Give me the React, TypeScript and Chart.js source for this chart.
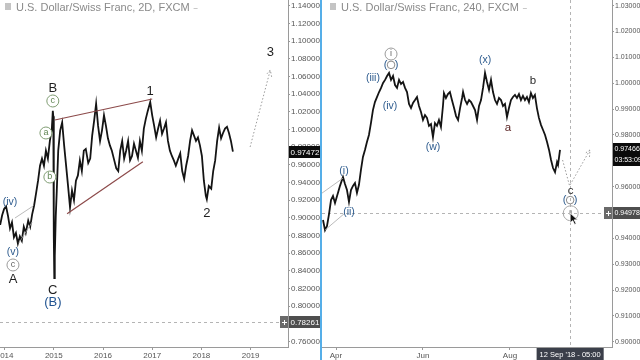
import React, { useEffect, useRef } from "react";
import { Chart, registerables } from "chart.js";

Chart.register(...registerables);

const FONT = "'Liberation Sans', Arial, sans-serif";

// ---------------- Left panel: USD/CHF, 2D ----------------
const leftTitle = "U.S. Dollar/Swiss Franc, 2D, FXCM";
const leftDates = [
  2013.91, 2013.95, 2013.99, 2014.03, 2014.07, 2014.11, 2014.15, 2014.19, 2014.23, 2014.27,
  2014.31, 2014.35, 2014.39, 2014.43, 2014.48, 2014.52, 2014.56, 2014.6, 2014.64, 2014.68,
  2014.72, 2014.76, 2014.8, 2014.84, 2014.88, 2014.92, 2014.96, 2014.98, 2014.99, 2015.0,
  2015.01, 2015.02, 2015.04, 2015.06, 2015.09, 2015.13, 2015.17, 2015.21, 2015.25, 2015.29,
  2015.33, 2015.37, 2015.41, 2015.45, 2015.49, 2015.53, 2015.57, 2015.61, 2015.65, 2015.7,
  2015.74, 2015.78, 2015.82, 2015.86, 2015.9, 2015.94, 2015.98, 2016.02, 2016.06, 2016.1,
  2016.14, 2016.18, 2016.22, 2016.27, 2016.31, 2016.35, 2016.39, 2016.43, 2016.47, 2016.51,
  2016.55, 2016.59, 2016.63, 2016.67, 2016.71, 2016.75, 2016.79, 2016.83, 2016.87, 2016.91,
  2016.96, 2017.0, 2017.04, 2017.08, 2017.12, 2017.16, 2017.2, 2017.24, 2017.28, 2017.32,
  2017.36, 2017.4, 2017.44, 2017.48, 2017.53, 2017.57, 2017.61, 2017.65, 2017.69, 2017.73,
  2017.77, 2017.81, 2017.85, 2017.89, 2017.93, 2017.97, 2018.01, 2018.05, 2018.09, 2018.11,
  2018.15, 2018.2, 2018.24, 2018.28, 2018.32, 2018.36, 2018.4, 2018.44, 2018.48, 2018.52,
  2018.56, 2018.6, 2018.64,
];
const leftPrices = [
  0.892, 0.903, 0.91, 0.913, 0.902, 0.888, 0.895, 0.878, 0.883, 0.871,
  0.879, 0.874, 0.89, 0.883, 0.897, 0.89, 0.904, 0.914, 0.928, 0.942,
  0.959, 0.967, 0.959, 0.976, 0.967, 0.987, 1.001, 1.021, 1.015, 0.878,
  0.832, 0.857, 0.902, 0.93, 0.976, 0.999, 1.008, 0.982, 0.959, 0.936,
  0.912, 0.931, 0.92, 0.942, 0.948, 0.965, 0.953, 0.976, 0.978, 0.962,
  0.967, 0.993, 1.01, 1.029, 1.004, 0.987, 0.999, 1.016, 1.004, 0.99,
  0.982, 0.976, 0.967, 0.956, 0.953, 0.976, 0.987, 0.967, 0.976, 0.987,
  0.965, 0.97, 0.984, 0.976, 0.968, 0.987, 0.976, 1.001, 1.012, 1.021,
  1.031, 1.016, 1.004, 0.991, 1.001, 1.01, 0.995, 1.001, 1.008, 0.987,
  0.976, 0.97, 0.965, 0.959, 0.967, 0.973, 0.953, 0.944, 0.959, 0.97,
  0.987, 0.999, 0.993, 0.987, 0.991, 0.982, 0.97, 0.942, 0.925, 0.921,
  0.936, 0.933, 0.953, 0.965, 0.987, 1.002, 0.99, 0.996, 1.001, 1.003,
  0.996, 0.987, 0.975,
];
const leftYTicks = [0.76, 0.78, 0.8, 0.82, 0.84, 0.86, 0.88, 0.9, 0.92, 0.94, 0.96, 0.98, 1.0, 1.02, 1.04, 1.06, 1.08, 1.1, 1.12, 1.14];
const leftXTicks = [2014, 2015, 2016, 2017, 2018, 2019];
const leftLastPrice = 0.97472;
const leftCrossPrice = 0.78261;

const leftLabels = [
  { text: "3", x: 2019.4, y: 1.0876, kind: "big" },
  { text: "1", x: 2016.96, y: 1.0435, kind: "big" },
  { text: "B", x: 2014.98, y: 1.0469, kind: "big" },
  { text: "c", x: 2014.98, y: 1.0322, kind: "circ" },
  { text: "a", x: 2014.84, y: 0.996, kind: "circ" },
  { text: "b", x: 2014.92, y: 0.9462, kind: "circ" },
  { text: "(iv)", x: 2014.11, y: 0.918, kind: "wave" },
  { text: "(v)", x: 2014.17, y: 0.8614, kind: "wave" },
  { text: "c", x: 2014.17, y: 0.8467, kind: "circGray" },
  { text: "A", x: 2014.17, y: 0.8308, kind: "big" },
  { text: "C", x: 2014.98, y: 0.8184, kind: "big" },
  { text: "(B)", x: 2014.98, y: 0.8048, kind: "bigBlue" },
  { text: "2", x: 2018.11, y: 0.9055, kind: "big" },
];
const leftLines = [
  { pts: [[2015.02, 1.0107], [2017.0, 1.0345]], kind: "trend" },
  { pts: [[2015.27, 0.9046], [2016.81, 0.9635]], kind: "trend" },
  { pts: [[2014.21, 0.8998], [2014.58, 0.9134]], kind: "thin" },
  { pts: [[2014.29, 0.8715], [2014.56, 0.8953]], kind: "thin" },
  { pts: [[2018.99, 0.9802], [2019.4, 1.0673]], kind: "dotArrow" },
];

// ---------------- Right panel: USD/CHF, 240 ----------------
const rightTitle = "U.S. Dollar/Swiss Franc, 240, FXCM";
// day of year 2018
const rightDays = [
  81.9, 83.3, 84.7, 86.1, 87.5, 88.9, 90.3, 92.4, 93.8, 95.9,
  97.3, 98.7, 100.1, 101.5, 102.9, 104.3, 105.7, 107.1, 108.5, 109.9,
  111.3, 112.7, 114.1, 115.5, 116.9, 118.3, 119.8, 121.2, 122.6, 124.0,
  125.4, 126.8, 128.2, 129.6, 131.0, 132.4, 133.8, 135.2, 136.6, 138.0,
  139.4, 140.8, 142.2, 143.6, 145.0, 146.4, 147.8, 149.2, 150.6, 152.0,
  153.4, 154.8, 156.2, 157.6, 159.0, 160.4, 161.8, 163.2, 164.6, 166.0,
  166.7, 168.1, 169.5, 170.9, 172.3, 173.8, 175.2, 176.6, 178.0, 179.4,
  180.1, 181.5, 182.9, 184.3, 185.7, 187.1, 188.5, 189.9, 191.3, 192.7,
  194.1, 195.5, 196.9, 198.3, 199.7, 201.1, 202.5, 203.9, 205.3, 206.7,
  208.1, 209.5, 210.9, 212.3, 213.7, 215.1, 216.5, 217.9, 219.3, 220.7,
  222.1, 223.5, 224.9, 226.3, 227.7, 229.1, 230.5, 231.9, 233.3, 234.8,
  236.2, 237.6, 239.0, 240.4, 241.8, 243.2, 244.6, 246.0, 246.7, 248.1,
];
const rightPrices = [
  0.9471, 0.9432, 0.9448, 0.9494, 0.9548, 0.9564, 0.9537, 0.9576, 0.9603, 0.9637,
  0.961, 0.9587, 0.9541, 0.9587, 0.9603, 0.9614, 0.9576, 0.9607, 0.9665, 0.9715,
  0.9742, 0.9773, 0.98, 0.9846, 0.9896, 0.9927, 0.9947, 0.9966, 0.9982, 1.0001,
  1.0013, 1.0028, 1.004, 1.0013, 1.0028, 0.9993, 0.9982, 1.0013, 0.9997, 1.0005,
  0.9982, 0.9966, 0.992, 0.9904, 0.9924, 0.9935, 0.9947, 0.9912, 0.9889, 0.9858,
  0.9877, 0.9866, 0.9835, 0.9842, 0.9792, 0.9846, 0.9835, 0.9858, 0.9831, 0.9912,
  0.9962, 0.9943, 0.9958, 0.9966, 0.9935, 0.9904, 0.9873, 0.9858, 0.9904, 0.9943,
  0.9966, 0.9935, 0.992, 0.9935, 0.9927, 0.9912, 0.9896, 0.9858, 0.9912, 0.9935,
  0.9982, 1.004, 1.0005, 0.9974, 1.0013, 0.9966, 0.9935, 0.992, 0.9943, 0.9935,
  0.9912, 0.992, 0.9869, 0.9904, 0.9935, 0.9947, 0.9955, 0.9943, 0.9958, 0.9935,
  0.9951, 0.9935, 0.9947, 0.9927, 0.9962, 0.9943, 0.9955, 0.9904, 0.9866, 0.9838,
  0.9819, 0.98, 0.9773, 0.9742, 0.9703, 0.9672, 0.9656, 0.9695, 0.9684, 0.9742,
];
const rightYTicks = [0.9, 0.91, 0.92, 0.93, 0.94, 0.95, 0.96, 0.97, 0.98, 0.99, 1.0, 1.01, 1.02, 1.03];
const rightXTicks = [91, 152, 213];
const rightXLabels = ["Apr", "Jun", "Aug"];
const rightLastPrice = 0.97466;
const rightCountdown = "03:53:09";
const rightCrossPrice = 0.94978;
const rightCrossDay = 255.2;
const rightCrossLabel = "12 Sep '18 - 05:00";

const rightLabels = [
  { text: "(i)", x: 96.6, y: 0.9661, kind: "wave" },
  { text: "(ii)", x: 100.1, y: 0.9502, kind: "wave" },
  { text: "(iii)", x: 116.9, y: 1.002, kind: "wave" },
  { text: "i", x: 129.6, y: 1.0113, kind: "circGray" },
  { text: "", x: 129.6, y: 1.0071, kind: "parenCirc" },
  { text: "(iv)", x: 128.9, y: 0.9912, kind: "wave" },
  { text: "(w)", x: 159.0, y: 0.9753, kind: "wave" },
  { text: "(x)", x: 195.5, y: 1.009, kind: "wave" },
  { text: "a", x: 211.6, y: 0.9827, kind: "lblRed" },
  { text: "b", x: 229.1, y: 1.0009, kind: "lbl" },
  { text: "c", x: 255.6, y: 0.9583, kind: "lbl" },
  { text: "", x: 255.2, y: 0.9548, kind: "parenCirc" },
  { text: "ii", x: 255.6, y: 0.9497, kind: "circBig" },
];
const rightLines = [
  { pts: [[81.2, 0.9575], [95.9, 0.9633]], kind: "thin" },
  { pts: [[83.3, 0.9432], [97.3, 0.9498]], kind: "thin" },
  { pts: [[249.9, 0.9703], [254.8, 0.9603], [269.1, 0.9742]], kind: "dotArrow" },
];

type Spec = {
  name: string;
  title: string;
  titleX: number;
  dates: number[];
  prices: number[];
  xMin: number;
  xMax: number;
  yMin: number;
  yMax: number;
  yTicks: number[];
  xTicks: number[];
  xLabel: (v: number) => string;
  axisW: number;
  axisFont: number;
  padLeft: number;
  lastPrice: number;
  countdown?: string;
  crossPrice: number;
  crossX?: number;
  crossLabel?: string;
  labels: { text: string; x: number; y: number; kind: string }[];
  lines: { pts: number[][]; kind: string }[];
  blueEdge: boolean;
};

function drawText(ctx: CanvasRenderingContext2D, t: string, x: number, y: number, size: number, color: string) {
  ctx.font = `${size}px ${FONT}`;
  ctx.fillStyle = color;
  ctx.textAlign = "center";
  ctx.textBaseline = "middle";
  ctx.fillText(t, x, y);
}

function drawArrowHead(ctx: CanvasRenderingContext2D, x0: number, y0: number, x1: number, y1: number) {
  const a = Math.atan2(y1 - y0, x1 - x0);
  const len = 7;
  ctx.beginPath();
  ctx.moveTo(x1 - len * Math.cos(a - 0.45), y1 - len * Math.sin(a - 0.45));
  ctx.lineTo(x1, y1);
  ctx.lineTo(x1 - len * Math.cos(a + 0.45), y1 - len * Math.sin(a + 0.45));
  ctx.stroke();
}

function makeOverlay(s: Spec) {
  return {
    id: "overlay_" + s.name,
    beforeDatasetsDraw(chart: any) {
      const { ctx, chartArea: ca, scales } = chart;
      const xs = scales.x;
      const ys = scales.y;
      ctx.save();
      ctx.strokeStyle = "#b4b4b4";
      ctx.lineWidth = 1;
      ctx.setLineDash([3, 3]);
      const yy = Math.round(ys.getPixelForValue(s.crossPrice)) + 0.5;
      ctx.beginPath();
      ctx.moveTo(ca.left, yy);
      ctx.lineTo(ca.right - 8, yy);
      ctx.stroke();
      if (s.crossX != null) {
        const xx = Math.round(xs.getPixelForValue(s.crossX)) + 0.5;
        ctx.beginPath();
        ctx.moveTo(xx, 0);
        ctx.lineTo(xx, ca.bottom);
        ctx.stroke();
      }
      ctx.restore();
    },
    afterDatasetsDraw(chart: any) {
      const { ctx, scales } = chart;
      const xs = scales.x;
      const ys = scales.y;
      const px = (v: number) => xs.getPixelForValue(v);
      const py = (v: number) => ys.getPixelForValue(v);
      ctx.save();
      for (const ln of s.lines) {
        const p = ln.pts.map((q) => [px(q[0]), py(q[1])]);
        ctx.setLineDash([]);
        if (ln.kind === "trend") {
          ctx.strokeStyle = "#8c4a4a";
          ctx.lineWidth = 1.2;
        } else if (ln.kind === "thin") {
          ctx.strokeStyle = "#a8a8a8";
          ctx.lineWidth = 0.8;
        } else {
          ctx.strokeStyle = "#9a9a9a";
          ctx.lineWidth = 1;
          ctx.setLineDash([1.5, 2]);
        }
        ctx.beginPath();
        ctx.moveTo(p[0][0], p[0][1]);
        for (let i = 1; i < p.length; i++) ctx.lineTo(p[i][0], p[i][1]);
        ctx.stroke();
        if (ln.kind === "dotArrow") {
          const a = p[p.length - 2];
          const b = p[p.length - 1];
          drawArrowHead(ctx, a[0], a[1], b[0], b[1]);
        }
      }
      ctx.setLineDash([]);
      for (const l of s.labels) {
        const x = px(l.x);
        const y = py(l.y);
        switch (l.kind) {
          case "big":
            drawText(ctx, l.text, x, y, 13, "#1e1e1e");
            break;
          case "bigBlue":
            drawText(ctx, l.text, x, y, 13, "#1f5290");
            break;
          case "wave":
            drawText(ctx, l.text, x, y, 10.5, "#2d5b8e");
            break;
          case "lbl":
            drawText(ctx, l.text, x, y, 11.5, "#2a2a2a");
            break;
          case "lblRed":
            drawText(ctx, l.text, x, y, 11.5, "#5a2424");
            break;
          case "circ":
          case "circGray": {
            const col = l.kind === "circ" ? "#7f9c72" : "#9a9a9a";
            ctx.beginPath();
            ctx.arc(x, y, 6, 0, Math.PI * 2);
            ctx.fillStyle = "#ffffff";
            ctx.fill();
            ctx.strokeStyle = col;
            ctx.lineWidth = 1;
            ctx.stroke();
            drawText(ctx, l.text, x, y - 0.5, 9, l.kind === "circ" ? "#5f8552" : "#666");
            break;
          }
          case "circBig": {
            ctx.beginPath();
            ctx.arc(x, y, 7.5, 0, Math.PI * 2);
            ctx.strokeStyle = "#a8a8a8";
            ctx.lineWidth = 1;
            ctx.stroke();
            drawText(ctx, l.text, x, y, 8, "#888");
            // mouse pointer at crosshair
            const cx = px(s.crossX ?? l.x);
            const cy = py(s.crossPrice);
            ctx.beginPath();
            ctx.moveTo(cx, cy);
            ctx.lineTo(cx, cy + 10);
            ctx.lineTo(cx + 2.5, cy + 7.5);
            ctx.lineTo(cx + 4.5, cy + 11.5);
            ctx.lineTo(cx + 6, cy + 10.5);
            ctx.lineTo(cx + 4, cy + 6.8);
            ctx.lineTo(cx + 7.5, cy + 6.8);
            ctx.closePath();
            ctx.fillStyle = "#111";
            ctx.fill();
            ctx.strokeStyle = "#fff";
            ctx.lineWidth = 0.8;
            ctx.stroke();
            break;
          }
          case "parenCirc": {
            drawText(ctx, "(", x - 5.5, y, 11, "#2d5b8e");
            drawText(ctx, ")", x + 5.5, y, 11, "#2d5b8e");
            ctx.beginPath();
            ctx.arc(x, y, 3.8, 0, Math.PI * 2);
            ctx.strokeStyle = "#8a8a8a";
            ctx.lineWidth = 1;
            ctx.stroke();
            break;
          }
        }
      }
      ctx.restore();
    },
    afterDraw(chart: any) {
      const { ctx, chartArea: ca, scales, width } = chart;
      const xs = scales.x;
      const ys = scales.y;
      ctx.save();
      // title
      ctx.fillStyle = "#c4c4c4";
      ctx.fillRect(s.titleX - 11, 3, 6, 7);
      ctx.font = `11px ${FONT}`;
      ctx.fillStyle = "#8a8a8a";
      ctx.textAlign = "left";
      ctx.textBaseline = "middle";
      ctx.fillText(s.title, s.titleX, 8);
      const tw = ctx.measureText(s.title).width;
      ctx.fillStyle = "#c8c8c8";
      ctx.fillRect(s.titleX + tw + 4, 8, 4, 1);

      const box = (value: number, text: string, bg: string, dy = 0) => {
        const y = Math.round(ys.getPixelForValue(value)) + dy;
        ctx.fillStyle = bg;
        ctx.fillRect(ca.right + 1, y - 6, width - ca.right - 1, 12);
        ctx.font = `${s.axisFont}px ${FONT}`;
        ctx.fillStyle = "#ffffff";
        ctx.textAlign = "left";
        ctx.textBaseline = "middle";
        ctx.fillText(text, ca.right + 2.5, y + 0.5);
      };
      box(s.lastPrice, s.lastPrice.toFixed(5), "#0b0b0b");
      if (s.countdown) box(s.lastPrice, s.countdown, "#0b0b0b", 11);
      box(s.crossPrice, s.crossPrice.toFixed(5), "#4e4e4e");
      // plus button
      const cy = Math.round(ys.getPixelForValue(s.crossPrice));
      ctx.fillStyle = "#6a6a6a";
      ctx.fillRect(ca.right - 8, cy - 6, 8, 12);
      ctx.fillStyle = "#ffffff";
      ctx.fillRect(ca.right - 6, cy, 5, 1);
      ctx.fillRect(ca.right - 4, cy - 2, 1, 5);

      if (s.crossX != null && s.crossLabel) {
        const x = xs.getPixelForValue(s.crossX);
        ctx.font = `7.5px ${FONT}`;
        const w = ctx.measureText(s.crossLabel).width + 6;
        ctx.fillStyle = "#3b3f4a";
        ctx.fillRect(x - w / 2, ca.bottom + 1, w, 13);
        ctx.fillStyle = "#ffffff";
        ctx.textAlign = "center";
        ctx.textBaseline = "middle";
        ctx.fillText(s.crossLabel, x, ca.bottom + 7.5);
      }
      if (s.blueEdge) {
        ctx.fillStyle = "#55aee8";
        ctx.fillRect(0, 0, 2, chart.height);
      }
      ctx.restore();
    },
  };
}

function makeConfig(s: Spec): any {
  return {
    type: "line",
    data: {
      datasets: [
        {
          data: s.dates.map((d, i) => ({ x: d, y: s.prices[i] })),
          borderColor: "#141414",
          borderWidth: 1.8,
          pointRadius: 0,
          tension: 0,
          fill: false,
        },
      ],
    },
    options: {
      animation: false,
      responsive: false,
      events: [],
      layout: { padding: { left: s.padLeft, right: 0, top: 0, bottom: 0 }, autoPadding: false },
      plugins: { legend: { display: false }, tooltip: { enabled: false }, title: { display: false } },
      scales: {
        x: {
          type: "linear",
          min: s.xMin,
          max: s.xMax,
          afterBuildTicks: (sc: any) => {
            sc.ticks = s.xTicks.map((v) => ({ value: v }));
          },
          afterFit: (sc: any) => {
            sc.height = 13;
            sc.paddingLeft = 0;
            sc.paddingRight = 0;
          },
          ticks: {
            callback: (v: any) => s.xLabel(Number(v)),
            font: { family: FONT, size: 8 },
            color: "#555",
            maxRotation: 0,
            autoSkip: false,
            padding: 1,
          },
          grid: { drawOnChartArea: false, drawTicks: true, tickLength: 3, color: "#9a9a9a" },
          border: { display: true, color: "#9a9a9a" },
        },
        y: {
          type: "linear",
          position: "right",
          min: s.yMin,
          max: s.yMax,
          afterBuildTicks: (sc: any) => {
            sc.ticks = s.yTicks.map((v) => ({ value: v }));
          },
          afterFit: (sc: any) => {
            sc.width = s.axisW;
            sc.paddingTop = 0;
            sc.paddingBottom = 0;
          },
          ticks: {
            callback: (v: any) => Number(v).toFixed(5),
            font: { family: FONT, size: s.axisFont },
            color: "#555",
            padding: 1,
            autoSkip: false,
          },
          grid: { drawOnChartArea: false, drawTicks: true, tickLength: 2, color: "#9a9a9a" },
          border: { display: true, color: "#9a9a9a" },
        },
      },
    },
    plugins: [makeOverlay(s)],
  };
}

const leftSpec: Spec = {
  name: "left",
  title: leftTitle,
  titleX: 16,
  dates: leftDates,
  prices: leftPrices,
  xMin: 2013.9065,
  xMax: 2019.76,
  yMin: 0.75392,
  yMax: 1.14645,
  yTicks: leftYTicks,
  xTicks: leftXTicks,
  xLabel: (v) => String(Math.round(v)),
  axisW: 32,
  axisFont: 8,
  padLeft: 0,
  lastPrice: leftLastPrice,
  crossPrice: leftCrossPrice,
  labels: leftLabels,
  lines: leftLines,
  blueEdge: false,
};

const rightSpec: Spec = {
  name: "right",
  title: rightTitle,
  titleX: 21,
  dates: rightDays,
  prices: rightPrices,
  xMin: 81.18,
  xMax: 284.55,
  yMin: 0.89797,
  yMax: 1.0322,
  yTicks: rightYTicks,
  xTicks: rightXTicks,
  xLabel: (v) => {
    const i = rightXTicks.indexOf(Math.round(v));
    return i >= 0 ? rightXLabels[i] : "";
  },
  axisW: 28,
  axisFont: 7,
  padLeft: 2,
  lastPrice: rightLastPrice,
  countdown: rightCountdown,
  crossPrice: rightCrossPrice,
  crossX: rightCrossDay,
  crossLabel: rightCrossLabel,
  labels: rightLabels,
  lines: rightLines,
  blueEdge: true,
};

function Panel({ spec }: { spec: Spec }) {
  const ref = useRef<HTMLCanvasElement>(null);
  useEffect(() => {
    if (!ref.current) return;
    const chart = new Chart(ref.current, makeConfig(spec));
    return () => chart.destroy();
  }, [spec]);
  return <canvas ref={ref} width={320} height={360} style={{ display: "block", width: 320, height: 360 }} />;
}

export default function App() {
  return (
    <div style={{ position: "fixed", left: 0, top: 0, width: 640, height: 360, display: "flex", background: "#fff" }}>
      <Panel spec={leftSpec} />
      <Panel spec={rightSpec} />
    </div>
  );
}
